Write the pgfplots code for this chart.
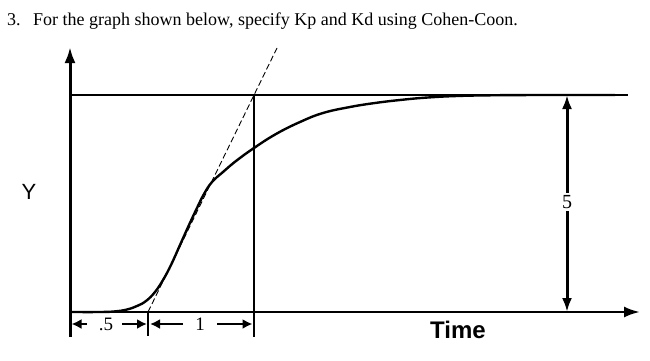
\documentclass[border=0pt]{standalone}
\usepackage{pgfplots}
\pgfplotsset{compat=1.18}
\usepackage{fontspec}
\setmainfont{Liberation Serif}
\newfontfamily\arial{Liberation Sans}
\usetikzlibrary{arrows.meta}
\begin{document}
\begin{tikzpicture}[x=1bp,y=1bp]
\begin{axis}[
  scale only axis, width=650bp, height=360bp,
  xmin=-70, xmax=580, ymin=-48, ymax=312,
  hide axis, clip=false,
]
\addplot[draw=none] coordinates {(-70,-48) (580,312)};
% axes
\addplot[line width=3bp, -{Latex[length=16bp,width=11bp]}] coordinates {(0,-25) (0,265)};
\addplot[line width=2.6bp, -{Latex[length=16bp,width=11bp]}] coordinates {(0,0) (570,0)};
% steady-state line
\addplot[line width=1.4bp] coordinates {(0,217) (558,217)};
% vertical line at end of tangent
\addplot[line width=2bp] coordinates {(184,217) (184,-25)};
% tick at dead time
\addplot[line width=2.4bp] coordinates {(78,0) (78,-24)};
% tangent
\addplot[line width=0.9bp, dash pattern=on 6bp off 3bp] coordinates {(78,0) (207,264)};
% response curve
\addplot[line width=2.4bp, smooth, tension=0.7] coordinates {
(0,0) (30,0) (45,0.6) (57,2.5) (67,6) (76,11) (85,20) (93,32) (101,47)
(110,67) (119,87) (127,104) (134,118) (142,130) (153,140)
(166,151) (184,164) (206,178) (230,190) (253,199) (280,205) (305,209)
(330,212) (355,214.3) (387,216) (430,216.8) (490,217) (545,217)};
% amplitude arrow
\addplot[line width=3bp, {Latex[length=14bp,width=10bp]}-{Latex[length=14bp,width=10bp]}] coordinates {(497,217) (497,0)};
\node[fill=white, inner sep=2bp, font=\fontsize{20bp}{24bp}\selectfont] at (axis cs:497,110) {5};
% bracket arrows
\addplot[line width=2.4bp, -{Latex[length=10bp,width=10bp]}] coordinates {(17,-12) (1.5,-12)};
\addplot[line width=2.4bp, -{Latex[length=10bp,width=10bp]}] coordinates {(52,-12) (77,-12)};
\addplot[line width=2.4bp, -{Latex[length=10bp,width=10bp]}] coordinates {(113,-12) (80,-12)};
\addplot[line width=2.4bp, -{Latex[length=10bp,width=10bp]}] coordinates {(147,-12) (182.5,-12)};
\node[font=\fontsize{19bp}{22bp}\selectfont] at (axis cs:36,-12) {.5};
\node[font=\fontsize{19bp}{22bp}\selectfont] at (axis cs:130,-12) {1};
% labels
\node[font=\arial\fontsize{22bp}{26bp}\selectfont] at (axis cs:-41,120) {Y};
\node[font=\arial\bfseries\fontsize{24bp}{26bp}\selectfont] at (axis cs:388,-18) {Time};
% title
\node[anchor=base west, inner sep=0pt, font=\fontsize{18bp}{21bp}\selectfont] at (axis cs:-63,287) {3.};
\node[anchor=base west, inner sep=0pt, font=\fontsize{18bp}{21bp}\selectfont] at (axis cs:-37,287) {For the graph shown below, specify Kp and Kd using Cohen-Coon.};
\end{axis}
\end{tikzpicture}
\end{document}
